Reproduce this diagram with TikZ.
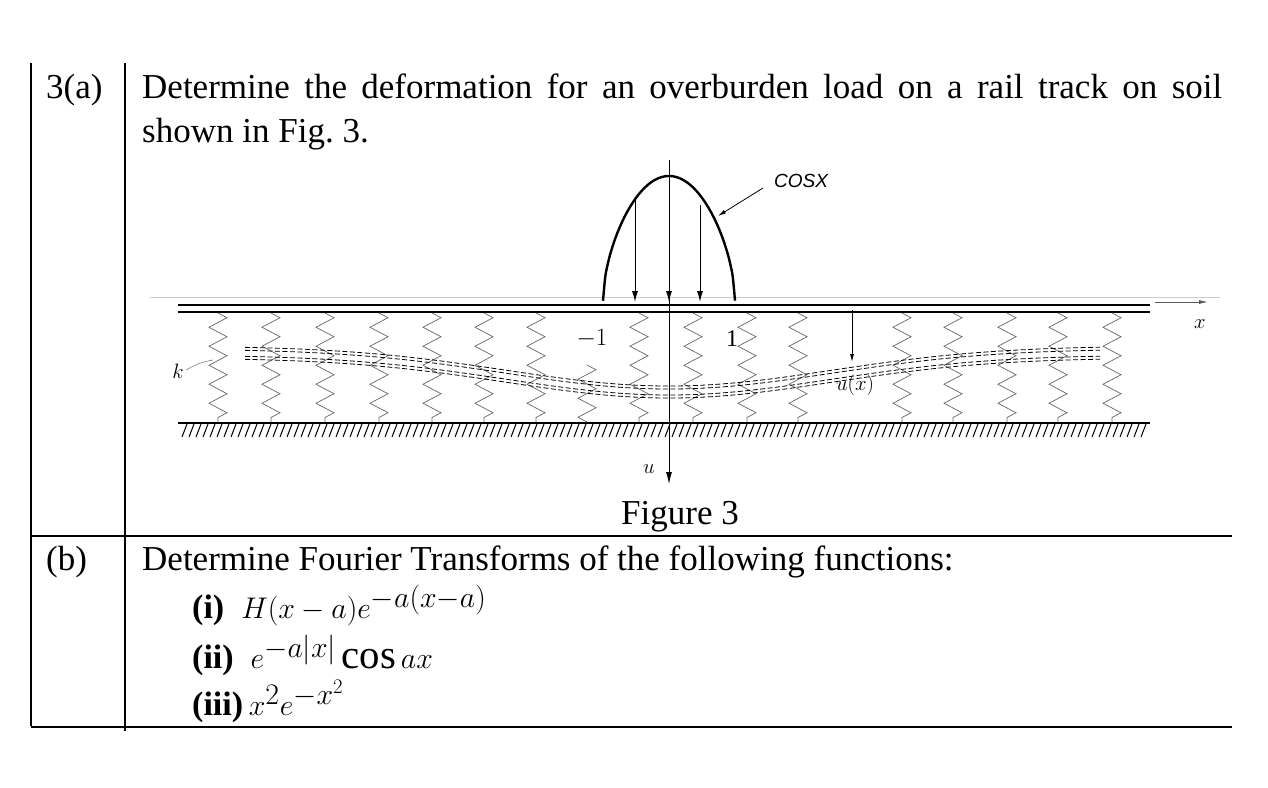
\documentclass[tikz,border=0pt]{standalone}
\usepackage{fontspec}
\usepackage{graphicx}
\setmainfont{Liberation Serif}
\newfontfamily\lsans{Liberation Sans}
\usetikzlibrary{decorations.pathmorphing,arrows.meta}
\newcommand{\myformula}[1]{\scalebox{1.2}{$#1$}}
\begin{document}
\begin{tikzpicture}[x=1pt,y=-1pt,
  txt/.style={inner sep=0pt,font=\fontsize{35}{44}\selectfont},
  mth/.style={inner sep=0pt,font=\fontsize{34}{40}\selectfont},
  lab/.style={inner sep=0pt,font=\fontsize{22}{24}\selectfont\itshape},
  tab/.style={line width=1.2pt},
  spr/.style={gray!80!black,line width=0.7pt,decorate,decoration={zigzag,segment length=19,amplitude=9}},
  rail/.style={line width=2.4pt},
  ld/.style={line width=1pt,-{Latex[length=11pt,width=6pt]}}]
\useasboundingbox (0,0) rectangle (1268,787);
% table
\draw[tab] (31,63) -- (31,726);
\draw[tab] (125,63) -- (125,731);
\draw[tab] (31,536) -- (1232,536);
\draw[line width=1.8pt] (31,727) -- (1232,727);
% texts
\node[txt,anchor=base west] (qa) at (46,98) {3(a)};
\node[txt,anchor=base west] (t1) at (142,98) {\makebox[1080pt][s]{Determine the deformation for an overburden load on a rail track on soil}};
\node[txt,anchor=base west] (t1b) at (142,142) {shown in Fig.~3.};
\node[txt,anchor=base] (fig) at (680,524) {Figure 3};
\node[txt,anchor=base west] (qb) at (46,570) {(b)};
\node[txt,anchor=base west] (t2) at (142,570) {Determine Fourier Transforms of the following functions:};
\node[mth,anchor=base west] (i1) at (192,618) {\textbf{(i)}\enspace\myformula{H(x-a)e^{-a(x-a)}}};
\node[mth,anchor=base west] (i2) at (192,668) {\textbf{(ii)}\enspace\myformula{e^{-a|x|}\cos ax}};
\node[mth,anchor=base west] (i3) at (192,715) {\textbf{(iii)}\,\myformula{x^2e^{-x^2}}};
% figure
\draw[gray!40,line width=0.6pt] (150,297) -- (1220,297);
\draw[rail] (178,305) -- (1150,305);
\draw[rail] (178,312) -- (1150,312);
\coordinate (xs) at (1155,302);
\coordinate (xe) at (1208,302);
\draw[gray!70!black,line width=0.8pt,-{Latex[length=9pt,width=4pt]}] (xs) -- (xe);
\node[lab] (xl) at (1200,324) {$x$};
\draw[line width=2.6pt] (178,423) -- (1150,423);
\foreach \h in {182,189,...,1146} \draw[line width=1pt] (\h,437) -- (\h+5,424);
% springs
\foreach \s in {218,271,325,379,432,484,536,639,693,747,798,902,953,1007,1058,1112}
  \draw[spr] (\s,313) -- (\s,422);
\draw[spr] (587,365) -- (587,422);
% deformed beam
\foreach \o in {0,3,9,12}
  \draw[dashed,line width=0.8pt,dash pattern=on 5pt off 2.5pt] plot[domain=245:1100,samples=60,smooth] (\x,{346+\o+40*exp(-((\x-669)/230)^2)});
% load
\draw[line width=2.4pt] plot[domain=603:735,samples=60,smooth] (\x,{302-126*cos((\x-669)/66.01*90)^0.55});
\draw[ld] (635,200) -- (635,302);
\draw[ld] (700,205) -- (700,302);
\draw[ld] (669,176) -- (669,302);
\coordinate (ut) at (669,160);
\coordinate (ub) at (669,484);
\draw[line width=0.8pt,-{Latex[length=12pt,width=6pt]}] (ut) -- (ub);
\node[lab] (ul) at (649,469) {$u$};
\node[inner sep=0pt,font=\lsans\fontsize{19}{20}\selectfont\itshape] (cl) at (801,181) {COSX};
\coordinate (cs) at (763,188);
\coordinate (ce) at (718,216);
\draw[line width=0.8pt,-{Latex[length=8pt,width=4pt]}] (cs) -- (ce);
\node[lab] (kl) at (178,371) {$k$};
\coordinate (ks) at (186,370);
\coordinate (ke) at (213,360);
\draw[gray,line width=0.6pt] (ks) to[bend left=10] (ke);
\node[inner sep=0pt,font=\fontsize{24}{24}\selectfont] (m1) at (592,339) {$-1$};
\node[inner sep=0pt,font=\fontsize{24}{24}\selectfont] (p1) at (732,339) {1};
\coordinate (us) at (852,310);
\coordinate (ue) at (852,362);
\draw[line width=0.8pt,-{Latex[length=8pt,width=4pt]}] (us) -- (ue);
\node[lab] (uxl) at (855,385) {$u(x)$};
\end{tikzpicture}
\end{document}
